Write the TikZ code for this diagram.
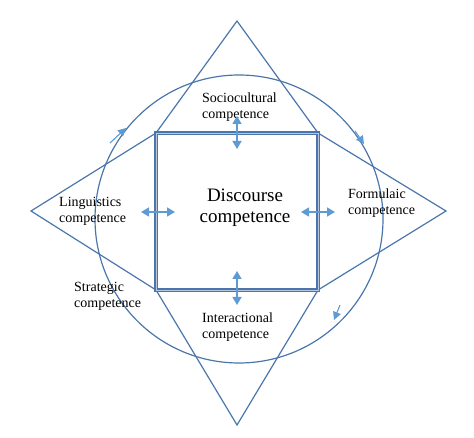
\documentclass[tikz,border=0pt]{standalone}
\usepackage{fontspec}
\setmainfont{Liberation Serif}
\usetikzlibrary{arrows.meta}
\definecolor{edgeblue}{HTML}{4A76AC}
\definecolor{arrowblue}{HTML}{5E9AD3}
\tikzset{
  outline/.style={draw=edgeblue, line width=1.2pt},
  squareline/.style={draw=edgeblue, line width=1.1pt, double=edgeblue!40, double distance=0.9pt},
  twoway/.style={arrowblue, line width=1.4pt, {Triangle[width=9pt,length=8pt]}-{Triangle[width=9pt,length=8pt]}},
  oneway/.style={arrowblue, line width=1.1pt, -{Triangle[width=8pt,length=8pt]}},
  textlabel/.style={anchor=west, inner sep=0pt, align=left, font=\fontsize{14}{16}\selectfont},
}
\begin{document}
\begin{tikzpicture}[x=1pt,y=-1pt]
\useasboundingbox (0,0) rectangle (474,438);

% Corners of the square and apexes of the triangles
\coordinate (TL) at (156,133);%
\coordinate (TR) at (318,133);%
\coordinate (BR) at (318,290);%
\coordinate (BL) at (156,290);%
\coordinate (topapex) at (237,21);%
\coordinate (bottomapex) at (237,425);%
\coordinate (leftapex) at (31,211);%
\coordinate (rightapex) at (446,211);%

% Drawing circle
\draw [outline] (239,219) circle (144);%

% Drawing triangles
\draw [outline] (TL) -- (topapex) -- (TR);%
\draw [outline] (BL) -- (bottomapex) -- (BR);%
\draw [outline] (TL) -- (leftapex) -- (BL);%
\draw [outline] (TR) -- (rightapex) -- (BR);%

% Drawing square
\draw [squareline] (TL) -- (TR) -- (BR) -- (BL) -- cycle;%

% Marking texts
\node (discourse) at (245,208) [align=center, inner sep=0pt, font=\fontsize{19}{21}\selectfont] {Discourse\\competence};%
\node (sociocultural) at (202,107) [textlabel] {Sociocultural\\competence};%
\node (linguistics) at (59,211) [textlabel] {Linguistics\\competence};%
\node (formulaic) at (348,203.5) [textlabel] {Formulaic\\competence};%
\node (strategic) at (74,296) [textlabel] {Strategic\\competence};%
\node (interactional) at (202,327) [textlabel] {Interactional\\competence};%

% Drawing two-way arrows
\coordinate (up1) at (237,116);  \coordinate (up2) at (237,149);%
\coordinate (dn1) at (237,271);  \coordinate (dn2) at (237,305);%
\coordinate (lf1) at (141,212);  \coordinate (lf2) at (175,212);%
\coordinate (rt1) at (301,212);  \coordinate (rt2) at (335,212);%
\draw [twoway] (up1) -- (up2);%
\draw [twoway] (dn1) -- (dn2);%
\draw [twoway] (lf1) -- (lf2);%
\draw [twoway] (rt1) -- (rt2);%

% Drawing arrows on circle
\coordinate (a1) at (110,143);  \coordinate (b1) at (126,128);%
\coordinate (a2) at (355,131);  \coordinate (b2) at (364,144);%
\coordinate (a3) at (340,305);  \coordinate (b3) at (334,320);%
\draw [oneway] (a1) -- (b1);%
\draw [oneway] (a2) -- (b2);%
\draw [oneway] (a3) -- (b3);%
\end{tikzpicture}
\end{document}
